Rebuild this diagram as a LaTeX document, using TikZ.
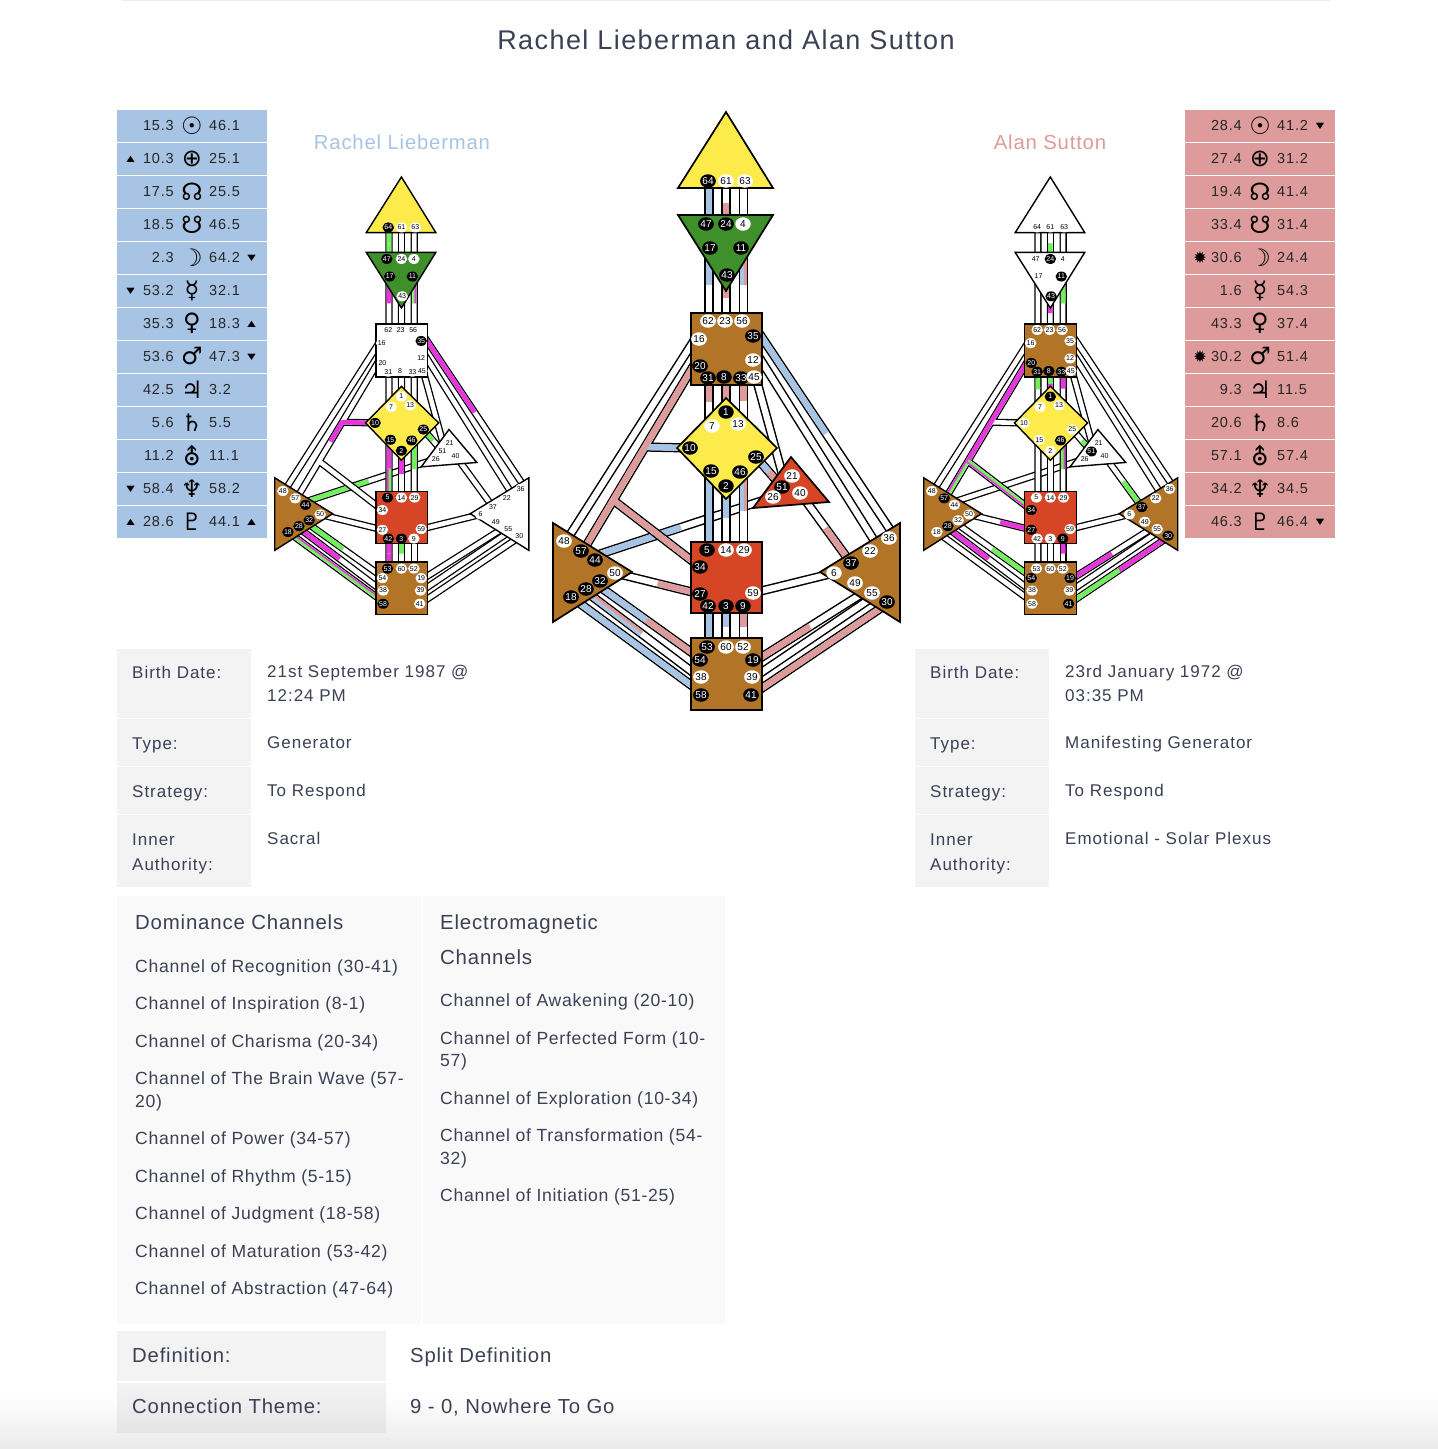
\documentclass[tikz,border=0pt]{standalone}
\usepackage{fontspec}
\setmainfont{Liberation Sans}[LetterSpace=4]
\newfontfamily\titlefont{Liberation Sans}[LetterSpace=5.3]
\newfontfamily\infofont{Liberation Sans}[LetterSpace=5.8]
\newfontfamily\gatefont{Liberation Sans}
\newfontfamily\planetfont{DejaVu Sans}
\usetikzlibrary{shapes.geometric,calc,backgrounds}
\newcommand\fs[1]{\fontsize{#1}{#1}\selectfont}
\definecolor{ink}{HTML}{3C4054}
\definecolor{rowblue}{HTML}{A7C4E4}
\definecolor{rowpink}{HTML}{DE9B9B}
\definecolor{hdmagenta}{HTML}{E637DC}
\definecolor{hdgreen}{HTML}{72EE5E}
\definecolor{hdyellow}{HTML}{FDEB4C}
\definecolor{hdgreen2}{HTML}{3F8F2A}
\definecolor{hdbrown}{HTML}{B27427}
\definecolor{hdred}{HTML}{D54526}
\definecolor{cellgrey}{HTML}{F3F3F4}
\definecolor{panelgrey}{HTML}{F9F9F9}
\tikzstyle{txt} = [anchor=base west, inner sep=0pt, text=ink]
\tikzstyle{rowcell} = [anchor=west, inner sep=0pt, minimum width=150pt, minimum height=32pt]
\tikzstyle{rownum} = [inner sep=0pt, text=black!85, font=\infofont\fs{14.5}, yshift=-4.4pt]
\tikzstyle{rowmark} = [inner sep=0pt, text=black, font=\planetfont\fs{11}]
\tikzstyle{cell} = [anchor=north west, inner sep=0pt, fill=cellgrey]
\tikzstyle{gateon} = [ellipse, fill=black, text=white, inner sep=0pt,
    minimum width=\gw, minimum height=\gh, font=\gatefont\fs{\gf}]
\tikzstyle{gateoff} = [ellipse, fill=white, text=black, inner sep=0pt,
    minimum width=\gw, minimum height=\gh, font=\gatefont\fs{\gf}]
\tikzstyle{centre} = [draw=black, line width=\cb, line join=miter]
\tikzstyle{tubeo} = [draw=black, line width=\tuo, line join=round]
\tikzstyle{tubei} = [draw=white, line width=\tui, line join=round]

% mark the gates of a chart as active
\newcommand\setact[3]{\foreach \g in {#3}{\expandafter\gdef\csname act#1#2\g\endcsname{}}}
% coloured part of a channel
\newcommand\halfseg[3]{%
  \ifcsname act\cn A#1\endcsname
    \ifcsname act\cn B#1\endcsname
      \draw[draw=actA, line width=\tuh] ($(#2)!\tus!90:(#3)$) -- ($(#3)!\tus!-90:(#2)$);
      \draw[draw=actB, line width=\tuh] ($(#2)!\tus!-90:(#3)$) -- ($(#3)!\tus!90:(#2)$);
    \else
      \draw[draw=actA, line width=\tui] (#2) -- (#3);
    \fi
  \else
    \ifcsname act\cn B#1\endcsname
      \draw[draw=actB, line width=\tui] (#2) -- (#3);
    \fi
  \fi}
\newcommand\gatesolid[2]{%
  \ifcsname act\cn A#1\endcsname \draw[draw=actA, line width=\tui, line join=round] #2; \fi
  \ifcsname act\cn B#1\endcsname \draw[draw=actB, line width=\tui, line join=round] #2; \fi}
% one channel, from gate to gate, with small offsets
\newcommand\chan[4]{%
  \path (\cn#1) ++(#3) coordinate (tp) (\cn#2) ++(#4) coordinate (tq);
  \coordinate (tm) at ($(tp)!.5!(tq)$);
  \draw[tubeo] (tp) -- (tq);
  \draw[tubei] (tp) -- (tq);
  \halfseg{#1}{tp}{tm}
  \halfseg{#2}{tm}{tq}}

% prefix, shift x, shift y, scale, head, ajna, throat, heart, solar plexus
\newcommand\bodychart[9]{%
\begin{scope}[shift={(#2,#3)}, scale=#4]
  % Place gates
  \foreach \g/\gx/\gy in {64/708/181,61/726/181,63/745/181,
      47/706/224,24/726/224,4/743/224,17/710/248,11/741/248,43/727/275,
      62/708/321,23/725/321,56/742/321,16/699/339,35/753/336,12/753/360,
      20/700/366,31/708/378,8/724/377,33/741/378,45/754/377,
      1/726/412,7/712/426,13/738/424,10/690/448,25/756/457,15/711/471,46/740/472,2/726/486,
      21/792/476,51/782/487,26/773/497,40/800/493,
      5/707/550,14/726/550,29/744/550,34/700/567,27/700/594,59/753/593,42/708/606,3/726/606,9/743/606,
      53/707/647,60/726/647,52/743/647,54/700/660,19/753/660,38/701/677,39/752/677,58/701/695,41/751/695,
      48/564/541,57/581/551,44/595/560,50/615/573,32/600/581,28/586/589,18/571/597,
      36/889/538,22/870/551,37/851/563,6/834/573,49/855/583,55/872/593,30/887/602}{
    \def\gs{gateoff}
    \ifcsname act\cn A\g\endcsname \def\gs{gateon}\fi
    \ifcsname act\cn B\g\endcsname \def\gs{gateon}\fi
    \node [\gs] (\cn\g) at (\gx,\gy) {\g};
  }
  \begin{pgfonlayer}{background}
    % Draw channels
    \chan{44}{26}{2,-5}{-8,2.7}
    \chan{48}{16}{3,-1.5}{-4,0}
    % the shared tube of 20, 10, 34 and 57
    \path (\cn20) ++(-3,-6) coordinate (ta) (\cn57) ++(2,0) coordinate (tb);
    \coordinate (\cn j2) at (645,447);
    \coordinate (\cn j1) at (613,500);
    \coordinate (tc) at ($(\cn j2)!.5!(\cn j1)$);
    \draw[tubeo] (ta) -- (tb) (\cn j1) -- (\cn34) (\cn j2) -- (\cn10);
    \draw[tubei] (ta) -- (tb) (\cn j1) -- (\cn34) (\cn j2) -- (\cn10);
    \gatesolid{10}{(\cn10) -- (\cn j2) -- (tc)}
    \gatesolid{20}{(ta) -- (\cn j1)}
    \halfseg{57}{tb}{\cn j1}
    \halfseg{34}{\cn34}{\cn j1}
    %
    \chan{35}{36}{4,-6}{6,-1}
    \chan{12}{22}{4,-6}{7,-6}
    \chan{45}{21}{2,1}{-10,-3}
    \chan{25}{51}{0,0}{0,0}
    \chan{40}{37}{0,0}{0,0}
    \chan{50}{27}{0,0}{0,0}
    \chan{59}{6}{0,0}{0,0}
    \chan{32}{54}{-3,3.7}{-4,-4.4}
    \chan{28}{38}{1,3.5}{-5,-2.3}
    \chan{18}{58}{5,3.6}{-5,-6.3}
    \chan{19}{49}{4,0}{8,10}
    \chan{39}{55}{5,-1.6}{0,4.6}
    \chan{41}{30}{6,-3.6}{-4,4.6}
    % upright channels
    \chan{64}{47}{1,0}{3,0}
    \chan{61}{24}{0,0}{0,0}
    \chan{63}{4}{-1.5,0}{.5,0}
    \chan{17}{62}{-1,0}{1,0}
    \chan{43}{23}{-1,0}{1,0}
    \chan{11}{56}{2.5,0}{1.5,0}
    \chan{31}{7}{1,0}{-3,0}
    \chan{8}{1}{2,0}{0,0}
    \chan{33}{13}{2.5,0}{5.5,0}
    \chan{5}{15}{2,0}{-2,0}
    \chan{2}{14}{0,0}{0,0}
    \chan{46}{29}{3.5,0}{-.5,0}
    \chan{42}{53}{1,0}{2,0}
    \chan{3}{60}{0,0}{0,0}
    \chan{9}{52}{.5,0}{.5,0}
    % Draw centres
    \draw[centre, fill=#5] (726,112) -- (773,188) -- (678,188) -- cycle;
    \draw[centre, fill=#6] (678,215) -- (773,215) -- (726,291) -- cycle;
    \draw[centre, fill=#7] (691,313) rectangle (762,385);
    \draw[centre, fill=hdyellow] (726,398) -- (777,448) -- (726,499) -- (677,448) -- cycle;
    \draw[centre, fill=#8] (791,457) -- (829,502) -- (753,508) -- cycle;
    \draw[centre, fill=hdred] (691,542) rectangle (762,613);
    \draw[centre, fill=hdbrown] (691,638) rectangle (762,710);
    \draw[centre, fill=hdbrown] (553,523) -- (632,572) -- (553,622) -- cycle;
    \draw[centre, fill=#9] (900,523) -- (820,572) -- (900,622) -- cycle;
  \end{pgfonlayer}
\end{scope}}

% prefix, left edge, colour, rows
\newcommand\planetrows[4]{%
  \foreach \i/\na/\gl/\nb in {#4}{
    \pgfmathsetmacro\ry{93+33*\i}
    \node [rowcell, fill=#3] (#1row\i) at (#2,\ry) {};
    \node [rownum, anchor=base east, xshift=57pt] (#1a\i) at (#1row\i.west) {\na};
    \node [inner sep=0pt, text=black, font=\planetfont\fs{24}, xshift=75pt, yshift=.5pt] (#1g\i) at (#1row\i.west) {\gl};
    \node [rownum, anchor=base west, xshift=92pt] (#1b\i) at (#1row\i.west) {\nb};
  }}
% prefix, left edge, date, time, type, authority
\newcommand\infotable[6]{%
  \node [cell, minimum width=134pt, minimum height=69pt] (#1c1) at (#2,649) {};
  \node [cell, minimum width=134pt, minimum height=47pt] (#1c2) at (#2,719) {};
  \node [cell, minimum width=134pt, minimum height=47pt] (#1c3) at (#2,767) {};
  \node [cell, minimum width=134pt, minimum height=72pt] (#1c4) at (#2,815) {};
  \begin{scope}[font=\infofont\fs{17}]
  \node [txt, xshift=15pt] (#1l1) at (#2,678) {Birth Date:};
  \node [txt, xshift=15pt] (#1l2) at (#2,749) {Type:};
  \node [txt, xshift=15pt] (#1l3) at (#2,797) {Strategy:};
  \node [txt, xshift=15pt] (#1l4) at (#2,845) {Inner};
  \node [txt, xshift=15pt] (#1l5) at (#2,870) {Authority:};
  \node [txt, xshift=150pt] (#1v1) at (#2,677) {#3};
  \node [txt, xshift=150pt] (#1v2) at (#2,701) {#4};
  \node [txt, xshift=150pt] (#1v3) at (#2,748) {#5};
  \node [txt, xshift=150pt] (#1v4) at (#2,796) {To Respond};
  \node [txt, xshift=150pt] (#1v5) at (#2,844) {#6};
  \end{scope}}

\begin{document}
\begin{tikzpicture}[x=1pt, y=-1pt]
	\useasboundingbox (0,0) rectangle (1438,1449);
	% page and its fade at the foot
	\begin{pgfonlayer}{background}
	\fill[white] (0,0) rectangle (1438,1449);
	\shade[top color=white, bottom color=black!8] (0,1395) rectangle (1438,1449);
	\draw[black!7, line width=1.5pt] (122,.7) -- (1330,.7);
	\end{pgfonlayer}
	% Place titles
	\node [txt, anchor=base, font=\titlefont\fs{27}] (title) at (726,49) {Rachel Lieberman and Alan Sutton};
	\node [txt, anchor=base, text=rowblue, font=\fs{20.3}] (nameleft) at (402,149) {Rachel Lieberman};
	\node [txt, anchor=base, text=rowpink, font=\fs{20.3}] (nameright) at (1050,149) {Alan Sutton};
	% Place planet rows
	\planetrows{l}{117}{rowblue}{1/15.3/☉/46.1,2/10.3/⊕/25.1,3/17.5/☊/25.5,4/18.5/☋/46.5,5/2.3/☽/64.2,
	  6/53.2/☿/32.1,7/35.3/♀/18.3,8/53.6/♂/47.3,9/42.5/♃/3.2,10/5.6/♄/5.5,11/11.2/⛢/11.1,12/58.4/♆/58.2,13/28.6/♇/44.1}
	\planetrows{r}{1185}{rowpink}{1/28.4/☉/41.2,2/27.4/⊕/31.2,3/19.4/☊/41.4,4/33.4/☋/31.4,5/30.6/☽/24.4,
	  6/1.6/☿/54.3,7/43.3/♀/37.4,8/30.2/♂/51.4,9/9.3/♃/11.5,10/20.6/♄/8.6,11/57.1/⛢/57.4,12/34.2/♆/34.5,13/46.3/♇/46.4}
	\foreach \i/\m in {2/▲,6/▼,12/▼,13/▲}
	  \node [rowmark, xshift=13.7pt] (lma\i) at (lrow\i.west) {\scalebox{1}[.75]{\m}};
	\foreach \i/\m in {5/▼,7/▲,8/▼,13/▲}
	  \node [rowmark, xshift=134.7pt] (lmb\i) at (lrow\i.west) {\scalebox{1}[.75]{\m}};
	\foreach \i in {5,8}
	  \node [rowmark, xshift=15pt, font=\planetfont\fs{16}] (rma\i) at (rrow\i.west) {✹};
	\foreach \i in {1,13}
	  \node [rowmark, xshift=135pt] (rmb\i) at (rrow\i.west) {\scalebox{1}[.75]{▼}};
	% Place charts
	\def\cb{1.7pt}\def\tuo{9.2pt}\def\tui{6.2pt}\def\tus{1.55pt}\def\tuh{3.1pt}
	\def\gw{15.5pt}\def\gh{13.5pt}\def\gf{10}
	\def\cn{m}
	\setact{m}{A}{28,27,19,33,30,1,43,9,20,57,34,46,41,31,24,54,37,51,11,8}
	\setact{m}{B}{15,10,17,18,2,53,35,42,5,11,58,28,46,25,64,32,47,3,44}
	\colorlet{actA}{rowpink}\colorlet{actB}{rowblue}
	\bodychart{m}{0}{0}{1}{hdyellow}{hdgreen2}{hdbrown}{hdred}{hdbrown}
	\def\cb{1.4pt}\def\tuo{7.2pt}\def\tui{4.6pt}\def\tus{1.15pt}\def\tuh{2.3pt}
	\def\gw{11.5pt}\def\gh{10pt}\def\gf{7}
	\def\cn{a}
	\setact{a}{A}{15,10,17,18,2,53,35,42,5,11,58,28}
	\setact{a}{B}{46,25,18,64,32,47,3,5,11,58,44}
	\colorlet{actA}{hdmagenta}\colorlet{actB}{hdgreen}
	\bodychart{a}{-130}{95}{.732}{hdyellow}{hdgreen2}{white}{white}{white}
	\def\cn{b}
	\setact{b}{A}{28,27,19,33,30,1,43,9,20,57,34,46}
	\setact{b}{B}{41,31,24,54,37,51,11,8,57,34,46}
	\bodychart{b}{518.9}{95}{.732}{white}{white}{hdbrown}{white}{hdbrown}
	% Place info tables
	\infotable{p}{117}{21st September 1987 @}{12:24 PM}{Generator}{Sacral}
	\infotable{q}{915}{23rd January 1972 @}{03:35 PM}{Manifesting Generator}{Emotional - Solar Plexus}
	% Place channel panels
	\node [cell, fill=panelgrey, minimum width=304pt, minimum height=428pt] (domain) at (117,896) {};
	\node [cell, fill=panelgrey, minimum width=302pt, minimum height=428pt] (emag) at (423,896) {};
	\node [txt, font=\fs{20.4}] (domhead) at (135,929) {Dominance Channels};
	\node [txt, font=\fs{20.4}] (emhead) at (440,929) {Electromagnetic};
	\node [txt, font=\fs{20.4}] (emhead2) at (440,964) {Channels};
	\foreach \t/\ty [count=\k] in {Channel of Recognition (30-41)/972,Channel of Inspiration (8-1)/1009,
	    Channel of Charisma (20-34)/1047,Channel of The Brain Wave (57-/1084,20)/1107,
	    Channel of Power (34-57)/1144,Channel of Rhythm (5-15)/1182,Channel of Judgment (18-58)/1219,
	    Channel of Maturation (53-42)/1257,Channel of Abstraction (47-64)/1294}
	  \node [txt, font=\fs{17.6}] (dom\k) at (135,\ty) {\t};
	\foreach \t/\ty [count=\k] in {Channel of Awakening (20-10)/1006,Channel of Perfected Form (10-/1044,57)/1066,
	    Channel of Exploration (10-34)/1104,Channel of Transformation (54-/1141,32)/1164,Channel of Initiation (51-25)/1201}
	  \node [txt, font=\fs{17.6}] (em\k) at (440,\ty) {\t};
	% Place summary rows
	\node [cell, minimum width=269pt, minimum height=50pt] (defcell) at (117,1331) {};
	\node [cell, minimum width=269pt, minimum height=49pt, top color=cellgrey, bottom color=black!10] (thmcell) at (117,1383) {};
	\node [txt, font=\fs{20.3}] (deflabel) at (132,1362) {Definition:};
	\node [txt, font=\fs{20.3}] (defvalue) at (410,1362) {Split Definition};
	\node [txt, font=\fs{20.3}] (thmlabel) at (132,1413) {Connection Theme:};
	\node [txt, font=\fs{20.3}] (thmvalue) at (410,1413) {9 - 0, Nowhere To Go};
\end{tikzpicture}
\end{document}
